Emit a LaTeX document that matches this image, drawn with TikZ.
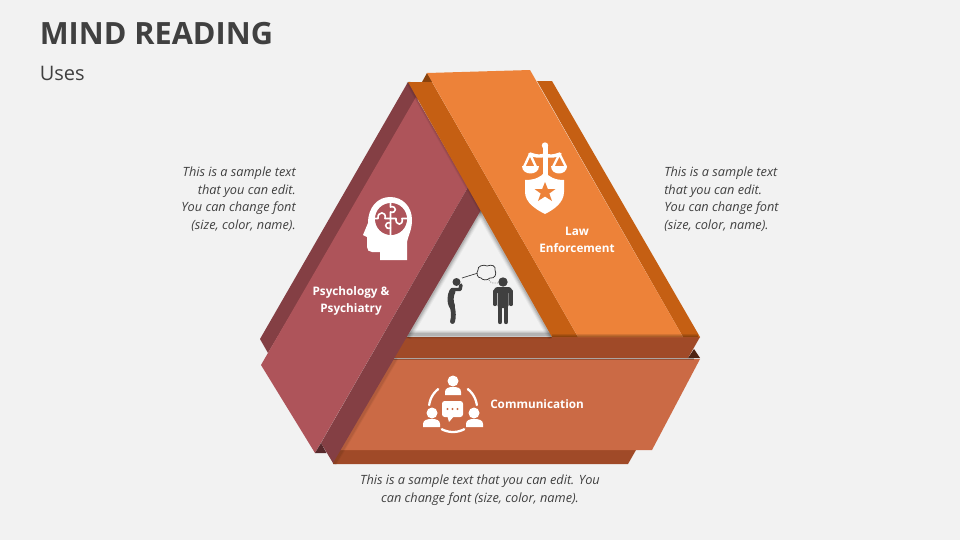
\documentclass[tikz,border=0pt]{standalone}
\usepackage{fontspec}
\setmainfont{Open Sans}
\usetikzlibrary{calc}
\definecolor{bgc}{HTML}{F2F2F2}
\definecolor{marL}{HTML}{AE545A}
\definecolor{marD}{HTML}{843F44}
\definecolor{orL}{HTML}{ED8239}
\definecolor{orD}{HTML}{C55F13}
\definecolor{coL}{HTML}{CB6A45}
\definecolor{coD}{HTML}{A04A28}
\definecolor{txtc}{HTML}{404040}
\tikzset{
  x=0.75pt,y=-0.75pt,
  sample/.style={font=\fontsize{9.55}{13.1}\selectfont\itshape,text=txtc,inner sep=0pt},
  lab/.style={font=\fontsize{8.8}{13.1}\selectfont\bfseries,text=white,align=center,inner sep=0pt},
  softs/.style={black,line cap=butt},
  wline/.style={draw=white,line cap=round,line join=round},
  fig/.style={draw=txtc,line cap=round,line join=round,fill=none},
}
\newcommand{\softline}[2]{%
  \foreach \w/\o in {9/0.04,7/0.06,5/0.08,3/0.10}{\draw[softs,line width=\w*0.75pt,opacity=\o] #1 -- #2;}}
\begin{document}
\begin{tikzpicture}
\useasboundingbox (0,0) rectangle (960,540);
\fill[bgc] (0,0) rectangle (960,540);
% title
\node[anchor=west,inner sep=0pt,font=\fontsize{23}{28}\selectfont\bfseries,text=txtc] (title) at (39.5,34) {MIND READING};
\node[anchor=west,inner sep=0pt,font=\fontsize{15}{18}\selectfont,text=txtc] (sub) at (39.5,73) {Uses};
% back maroon strip
\fill[marD] (408,82) -- (260,339) -- (268,353) -- (422,92) -- cycle;
% communication band
\fill[coD] (333,450) -- (636,450) -- (628,464) -- (333,464) -- cycle;
\fill[coD] (394,337) -- (700,337) -- (688,358) -- (394,358) -- cycle;
\fill[black!50!coD] (688,358) -- (694,349) -- (700,358) -- cycle;
\fill[coL] (390,359) -- (700,359) -- (652,450) -- (335,450) -- cycle;
\fill[black,opacity=.25] (390,357.5) rectangle (694,360);
% soft shadows
\softline{(481,210)}{(407,337)}
\softline{(480,210)}{(552,337)}
\softline{(404,334.5)}{(552,334.5)}
\foreach \w/\o in {5/0.05,3/0.07}{\draw[softs,line width=\w*0.75pt,opacity=\o] (396,358) -- (334,464);}
% maroon front
\fill[marL] (416,97) -- (261,365) -- (315,453) -- (468,187) -- cycle;
\fill[marD] (468,187) -- (481,210) -- (333,463) -- (321,443) -- cycle;
\fill[black!35!marD] (315,453) -- (321,443) -- (326.5,453) -- cycle;
% orange
\foreach \w/\o in {5/0.06,3/0.08}{\draw[softs,line width=\w*0.75pt,opacity=\o] (408,82) -- (482,212);}
\fill[black!30!orD] (422,82) -- (427,73) -- (433,82) -- cycle;
\fill[orD] (408,82) -- (432,82) -- (578,337) -- (552,337) -- cycle;
\fill[orD] (537,81) -- (552,81) -- (700,337) -- (683,337) -- cycle;
\fill[orL] (427,73) -- (530,70) -- (683,337) -- (578,337) -- cycle;
\foreach \d/\o in {1/.10,2/.10,3/.10}{\fill[black,opacity=\o] (552,337-\d) rectangle (698,337);}
% head icon
\fill[white] (368,223) .. controls (368,207) and (378,197) .. (390,197)
  .. controls (403,197) and (412,207) .. (412,220)
  .. controls (412,230) and (408,236) .. (407,242) -- (407,260) -- (380,260) -- (380,252) -- (372,252)
  .. controls (369,252) and (367,250) .. (367,247) -- (367,237) -- (363,235) -- cycle;
\fill[marL] (391,219) circle (16);
\draw[wline,line width=1.2pt] (390.5,203) -- (390.5,207) .. controls (397,205) and (397,214) .. (390.5,212) -- (390.5,235);
\draw[wline,line width=1.2pt] (375,218.5) -- (378,218.5) .. controls (377,211) and (387,211) .. (385,218.5) -- (396,218.5) .. controls (395,226) and (404,226) .. (402,218.5) -- (407,218.5);
\draw[wline,line width=1.2pt] (390.5,223) .. controls (384,221) and (384,230) .. (390.5,228);
% scales icon
\fill[white] (545,145.5) circle (3.2);
\fill[white] (542.5,146) rectangle (547.5,180);
\draw[wline,line width=2.6pt] (530,154) .. controls (535,156) and (540,157) .. (545,155) .. controls (550,157) and (555,156) .. (560,154);
\draw[wline,line width=1.8pt] (524,167) -- (530,154) -- (536,167) (553,167) -- (559.5,154) -- (566,167);
\fill[white] (522,165.5) -- (539,165.5) .. controls (539,176) and (522,176) .. (522,165.5) -- cycle;
\fill[white] (551,165.5) -- (567,165.5) .. controls (567,176) and (551,176) .. (551,165.5) -- cycle;
\fill[white] (525,180) .. controls (535,180) and (541,177) .. (545,172) .. controls (549,177) and (555,180) .. (564,180)
  -- (564,192) .. controls (564,203) and (553,210) .. (545,214) .. controls (537,210) and (525,203) .. (525,192) -- cycle;
\fill[orL] (545,182) -- (547.8,189) -- (555.5,189) -- (549.3,193.5) -- (552,201) -- (545,196.5) -- (538,201) -- (540.7,193.5) -- (534.5,189) -- (542.2,189) -- cycle;
% communication icon
\fill[white] (453,381) circle (5.5) (432,413) circle (5.5) (474,413) circle (5.5);
\fill[white] (445,395) -- (445,392) .. controls (445,388) and (449,387) .. (453,387) .. controls (458,387) and (461,388) .. (461,392) -- (461,395) -- cycle;
\fill[white] (423,427) -- (423,424) .. controls (423,420) and (427,419) .. (432,419) .. controls (436,419) and (440,420) .. (440,424) -- (440,427) -- cycle;
\fill[white] (466,427) -- (466,424) .. controls (466,420) and (470,419) .. (474,419) .. controls (479,419) and (483,420) .. (483,424) -- (483,427) -- cycle;
\fill[white,rounded corners=2pt] (442,401) rectangle (463,417);
\fill[white] (447,415) -- (449,422) -- (455,415) -- cycle;
\fill[coL] (447.5,409) circle (1.2) (452.5,409) circle (1.2) (457.5,409) circle (1.2);
\draw[wline,line width=1.7pt] plot[domain=187:232,samples=10,smooth] ({453+24*cos(\x)},{408+24*sin(\x)});
\draw[wline,line width=1.7pt] plot[domain=308:353,samples=10,smooth] ({453+24*cos(\x)},{408+24*sin(\x)});
\draw[wline,line width=1.7pt] plot[domain=62:118,samples=10,smooth] ({453+24*cos(\x)},{408+24*sin(\x)});
% people
\fill[txtc] (456.5,282) circle (4) (503,282) circle (4.7);
\draw[fig,line width=4.6pt] (452.5,291) .. controls (450,296) and (450,302) .. (452,306);
\draw[fig,line width=3.6pt] (452,306) .. controls (454,312) and (453.5,318) .. (452.5,321.5);
\draw[fig,line width=2.6pt] (452,289.5) -- (460,289.5) -- (461,285);
\fill[txtc,rounded corners=2pt] (497.5,287) rectangle (508.5,308);
\fill[txtc,rounded corners=2.5pt] (494,287) rectangle (512,293);
\draw[fig,line width=2.4pt] (495,291) -- (495,304.5) (511,291) -- (511,304.5);
\draw[fig,line width=3.3pt] (500,306) -- (500,322) (506,306) -- (506,322);
\draw[black!80,line width=0.5pt] (462,278) -- (478,273);
\draw[black!80,line width=0.55pt,fill=bgc] (478,270) .. controls (477,266) and (484,264) .. (487,266) .. controls (492,264) and (496,266) .. (495,270) .. controls (497,274) and (495,279) .. (490,278) .. controls (487,281) and (482,280) .. (481,278) .. controls (477,278) and (476,273) .. (478,270) -- cycle;
\draw[black!45,line width=0.7pt,densely dotted] (489,280) .. controls (491,284) and (495,283) .. (498,283);
% labels
\node[lab] (psy) at (351,301) {Psychology \&\\Psychiatry};
\node[lab] (law) at (577,240) {Law\\Enforcement};
\node[lab,anchor=west] (com) at (490,404.5) {Communication};
% sample texts
\node[sample,align=right,anchor=east] (tl) at (296,199) {This is a sample text\\that you can edit.\\You can change font\\(size, color, name).};
\node[sample,align=left,anchor=west] (tr) at (664,199) {This is a sample text\\that you can edit.\\You can change font\\(size, color, name).};
\node[sample,align=center] (tb) at (480,490) {This is a sample text that you can edit. You\\can change font (size, color, name).};
\end{tikzpicture}
\end{document}
